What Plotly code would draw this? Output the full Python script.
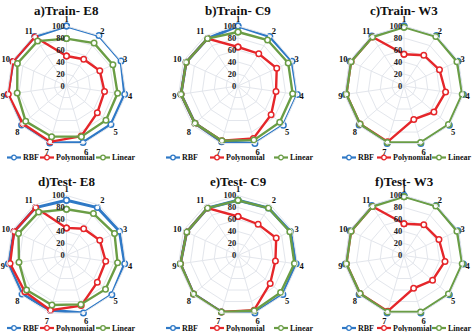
import plotly.graph_objects as go

# Spoke labels (11 evaluation points) and radial scale
spokes = [str(i) for i in range(1, 12)]
radial_ticks = [0, 20, 40, 60, 80, 100]

series_names = ["RBF", "Polynomial", "Linear"]
series_colors = ["#2F79C6", "#E5262A", "#6A9D45"]
series_widths = [3.0, 2.4, 2.4]

panel_titles = ["a)Train- E8", "b)Train- C9", "c)Train- W3",
                "d)Test- E8", "e)Test- C9", "f)Test- W3"]

# Accuracy (%) per spoke for each kernel
rbf_train_e8 = [100, 100, 100, 98, 98, 98, 99, 99, 99, 98, 98]
poly_train_e8 = [50, 53, 61, 64, 68, 87, 97, 96, 98, 98, 97]
lin_train_e8 = [79, 85, 85, 86, 87, 88, 88, 90, 83, 90, 89]

rbf_train_c9 = [100, 98, 99, 100, 100, 100, 97, 95, 96, 95, 94]
poly_train_c9 = [65, 64, 71, 64, 73, 91, 95, 95, 96, 95, 94]
lin_train_c9 = [90, 91, 92, 92, 92, 94, 95, 95, 96, 95, 94]

rbf_train_w3 = [100, 100, 99, 100, 100, 100, 100, 99, 99, 99, 99]
poly_train_w3 = [53, 61, 65, 70, 66, 58, 97, 97, 97, 97, 97]
lin_train_w3 = [98, 98, 97, 98, 98, 98, 98, 97, 97, 97, 97]

rbf_test_e8 = [92, 95, 97, 98, 100, 100, 95, 98, 98, 96, 95]
poly_test_e8 = [46, 53, 61, 66, 68, 87, 95, 92, 95, 96, 95]
lin_test_e8 = [77, 83, 88, 86, 86, 85, 86, 88, 80, 88, 86]

rbf_test_c9 = [92, 94, 96, 98, 99, 100, 98, 98, 97, 94, 94]
poly_test_c9 = [65, 62, 70, 63, 71, 95, 98, 98, 97, 94, 94]
lin_test_c9 = [92, 94, 95, 95, 94, 96, 98, 98, 97, 94, 94]

rbf_test_w3 = [100, 99, 99, 100, 100, 100, 100, 99, 99, 99, 99]
poly_test_w3 = [53, 61, 64, 69, 63, 57, 97, 97, 97, 97, 97]
lin_test_w3 = [98, 98, 97, 98, 98, 98, 98, 97, 97, 97, 97]

panels = [
    (rbf_train_e8, poly_train_e8, lin_train_e8),
    (rbf_train_c9, poly_train_c9, lin_train_c9),
    (rbf_train_w3, poly_train_w3, lin_train_w3),
    (rbf_test_e8, poly_test_e8, lin_test_e8),
    (rbf_test_c9, poly_test_c9, lin_test_c9),
    (rbf_test_w3, poly_test_w3, lin_test_w3),
]

W, H = 474, 332
R = 60
col_cx = [66.5, 238, 404]
row_cy = [86, 255.5]
row_title_y = [11, 181.5]
row_key_y = [157.5, 328]
# left edge (px) of each key swatch, per column
col_key_x = [[7, 40, 96], [166, 210, 274], [342, 377, 432]]
KEY_W = 14
SERIF = "Liberation Serif, Times New Roman, serif"
GRID = "#E3E6EC"


def px_x(x):
    return x / W


def px_y(y):
    return 1 - y / H


fig = go.Figure()
layout = dict(
    width=W, height=H,
    margin=dict(l=0, r=0, t=0, b=0),
    paper_bgcolor="white",
    plot_bgcolor="white",
    showlegend=False,
    shapes=[], annotations=[],
)

for p, (series, title) in enumerate(zip(panels, panel_titles)):
    col, row = p % 3, p // 3
    cx, cy = col_cx[col], row_cy[row]
    key = "polar" if p == 0 else f"polar{p + 1}"

    layout[key] = dict(
        domain=dict(x=[px_x(cx - R), px_x(cx + R)],
                    y=[px_y(cy + R), px_y(cy - R)]),
        bgcolor="white",
        gridshape="linear",
        radialaxis=dict(
            range=[0, 100], tickvals=radial_ticks, angle=90, tickangle=90,
            side="counterclockwise", showline=False, ticks="",
            ticksuffix="\u2002" * 4,
            gridcolor=GRID, gridwidth=1,
            tickfont=dict(family=SERIF, size=8.5, color="#222", weight="bold"),
        ),
        angularaxis=dict(
            rotation=90, direction="clockwise", ticks="",
            gridcolor=GRID, linecolor=GRID, showline=True,
            tickfont=dict(family=SERIF, size=8.5, color="#111", weight="bold"),
        ),
    )

    for name, color, width, vals in zip(series_names, series_colors,
                                        series_widths, series):
        fig.add_trace(go.Scatterpolar(
            r=vals + vals[:1], theta=spokes + spokes[:1],
            mode="lines+markers", name=name, subplot=key,
            line=dict(color=color, width=width),
            marker=dict(symbol="circle", size=5.5, color="white",
                        line=dict(color=color, width=1.5)),
            cliponaxis=False, showlegend=False,
        ))

    # panel title
    layout["annotations"].append(dict(
        text=title, x=px_x(cx), y=px_y(row_title_y[row]),
        xref="paper", yref="paper",
        showarrow=False, xanchor="center", yanchor="middle",
        font=dict(family=SERIF, size=13, color="#111", weight="bold"),
    ))

    # per-panel key below the chart
    ly = row_key_y[row]
    for x0, name, color in zip(col_key_x[col], series_names, series_colors):
        x1 = x0 + KEY_W
        layout["shapes"].append(dict(
            type="line", xref="paper", yref="paper",
            x0=px_x(x0), x1=px_x(x1), y0=px_y(ly), y1=px_y(ly),
            line=dict(color=color, width=2.2)))
        xm = (x0 + x1) / 2
        layout["shapes"].append(dict(
            type="circle", xref="paper", yref="paper",
            x0=px_x(xm - 2.3), x1=px_x(xm + 2.3),
            y0=px_y(ly + 2.3), y1=px_y(ly - 2.3),
            fillcolor="white", line=dict(color=color, width=1.3)))
        layout["annotations"].append(dict(
            text=name, x=px_x(x1), y=px_y(ly), xref="paper", yref="paper",
            showarrow=False, xanchor="left", yanchor="middle",
            font=dict(family=SERIF, size=8, color="#111", weight="bold"),
        ))

fig.update_layout(**layout)
fig.write_html("out.html")
